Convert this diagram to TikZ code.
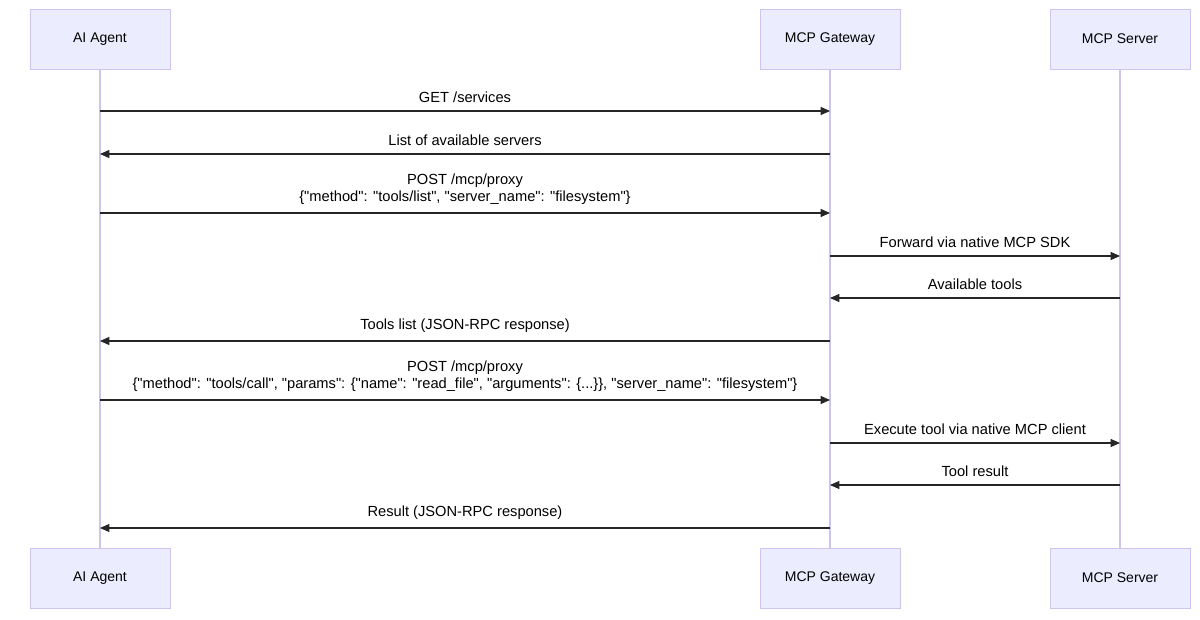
\documentclass[tikz,border=0pt]{standalone}
\usepackage{fontspec}
\setmainfont{Liberation Sans}
\usetikzlibrary{arrows.meta}
\definecolor{actfill}{HTML}{ECECFF}
\definecolor{actline}{HTML}{CFC3F0}
\newcommand{\qt}{\textquotedbl}
\tikzset{
  actor/.style={draw=actline, fill=actfill, minimum width=105pt, minimum height=45pt, font=\fontsize{10.5}{12}\selectfont},
  life/.style={draw=actline, line width=1pt},
  msg/.style={draw=black!85, line width=0.8pt, -{Triangle[length=7pt,width=6pt]}},
  lbl/.style={font=\fontsize{11}{12.5}\selectfont, align=center, anchor=south, inner sep=2pt}
}
\begin{document}
\begin{tikzpicture}[x=0.75pt,y=-0.75pt]
\useasboundingbox (0,0) rectangle (1200,620);
% actors
\node[actor] (agentT) at (100,39) {AI Agent};
\node[actor] (gateT) at (830,39) {MCP Gateway};
\node[actor] (servT) at (1120,39) {MCP Server};
\node[actor] (agentB) at (100,578) {AI Agent};
\node[actor] (gateB) at (830,578) {MCP Gateway};
\node[actor] (servB) at (1120,578) {MCP Server};
% lifelines
\draw[life] (agentT) -- (agentB);
\draw[life] (gateT) -- (gateB);
\draw[life] (servT) -- (servB);
% message rows
\foreach \n/\y in {1/111,2/154,3/213,4/256,5/298,6/341,7/400,8/443,9/485,10/528} {
  \coordinate (a\n) at (100,\y);
  \coordinate (g\n) at (830,\y);
  \coordinate (s\n) at (1120,\y);
}
\draw[msg] (a1) -- node[lbl, yshift=4pt] {GET /services} (g1);
\draw[msg] (g2) -- node[lbl, yshift=4pt] {List of available servers} (a2);
\draw[msg] (a3) -- node[lbl, yshift=4pt] {POST /mcp/proxy\\\{\qt method\qt: \qt tools/list\qt, \qt server\_name\qt: \qt filesystem\qt\}} (g3);
\draw[msg] (g4) -- node[lbl, yshift=4pt] {Forward via native MCP SDK} (s4);
\draw[msg] (s5) -- node[lbl, yshift=4pt] {Available tools} (g5);
\draw[msg] (g6) -- node[lbl, yshift=4pt] {Tools list (JSON-RPC response)} (a6);
\draw[msg] (a7) -- node[lbl, yshift=4pt] {POST /mcp/proxy\\\{\qt method\qt: \qt tools/call\qt, \qt params\qt: \{\qt name\qt: \qt read\_file\qt, \qt arguments\qt: \{...\}\}, \qt server\_name\qt: \qt filesystem\qt\}} (g7);
\draw[msg] (g8) -- node[lbl, yshift=4pt] {Execute tool via native MCP client} (s8);
\draw[msg] (s9) -- node[lbl, yshift=4pt] {Tool result} (g9);
\draw[msg] (g10) -- node[lbl, yshift=4pt] {Result (JSON-RPC response)} (a10);
\end{tikzpicture}
\end{document}
